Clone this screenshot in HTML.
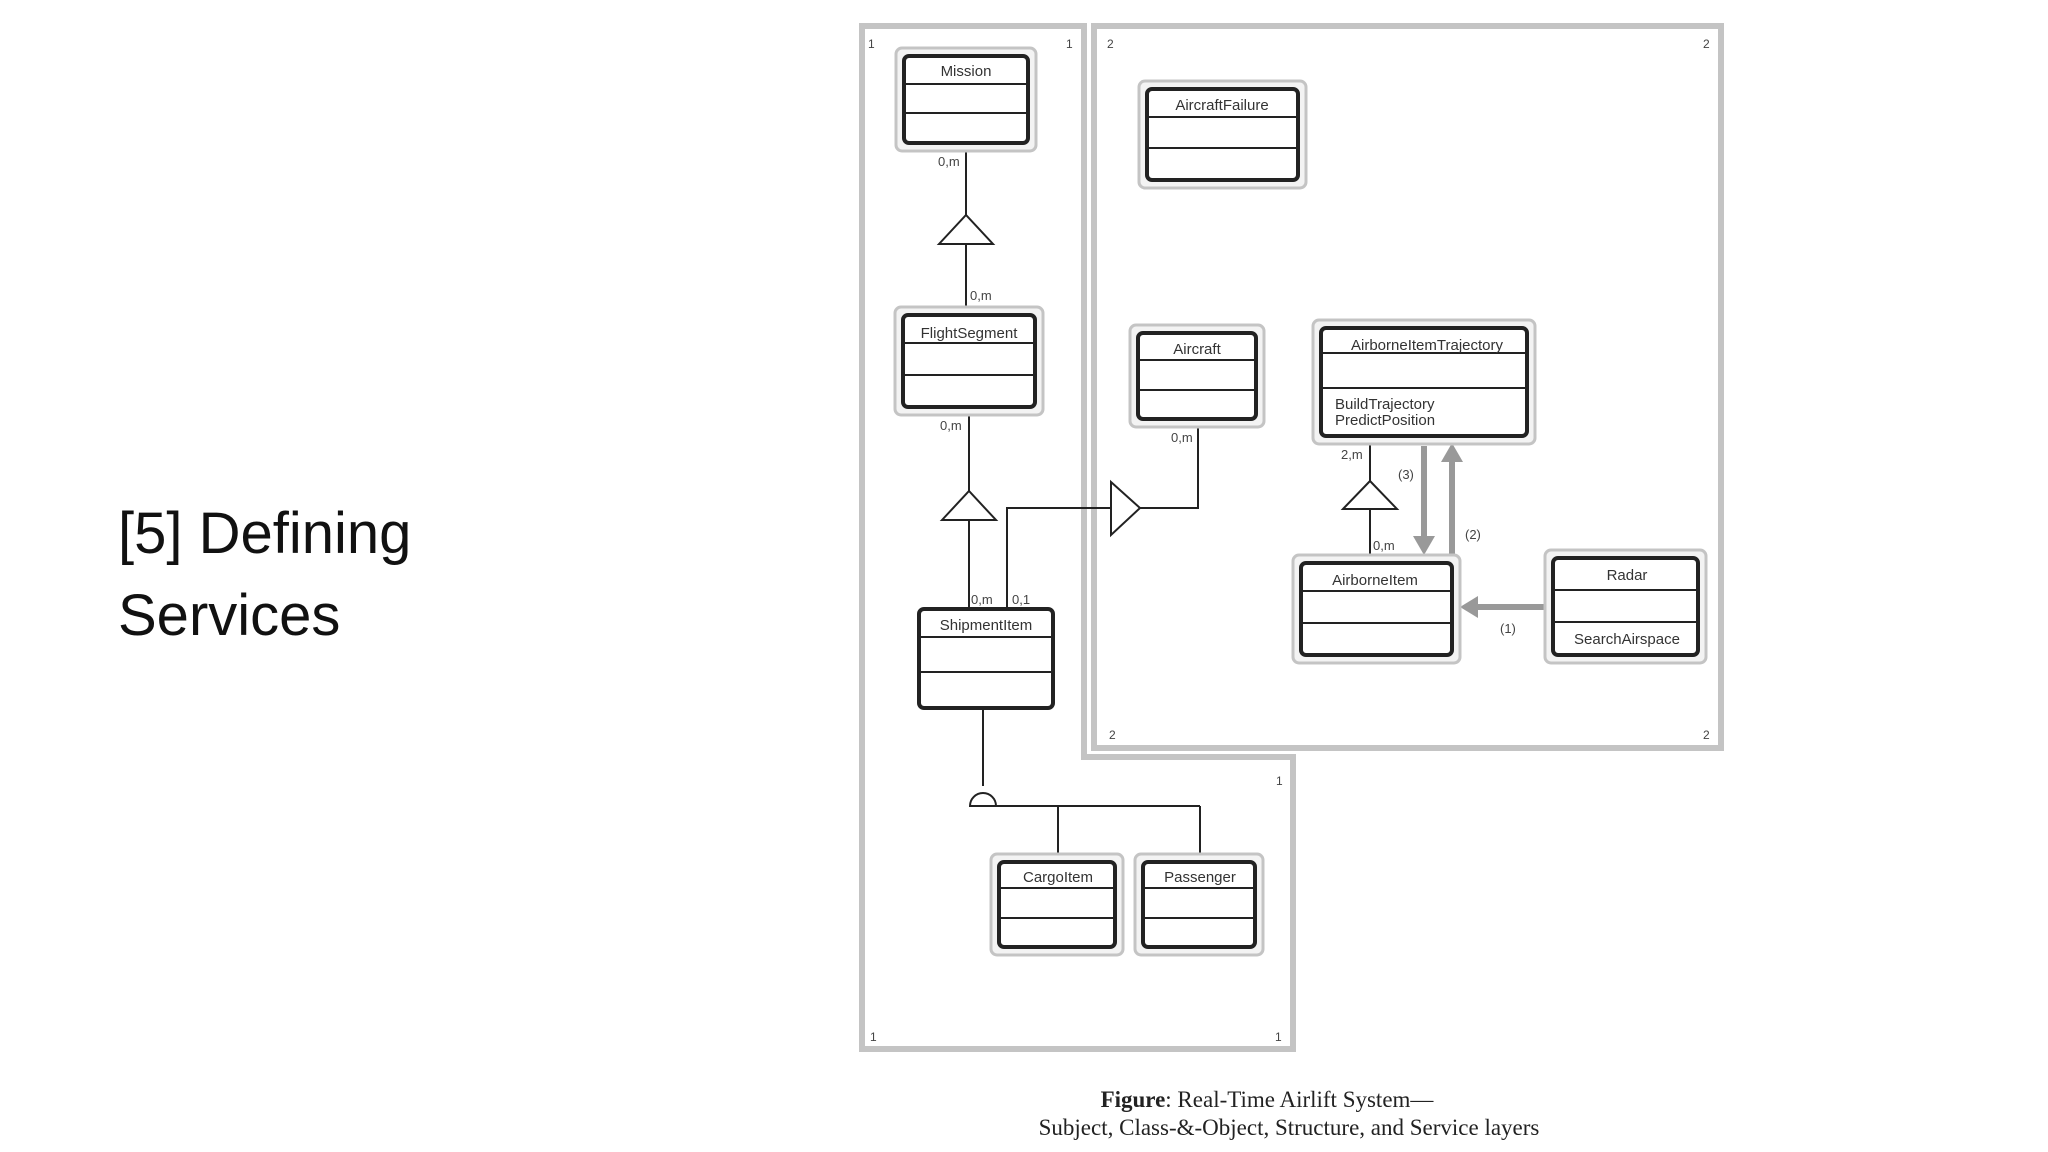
<!DOCTYPE html>
<html><head><meta charset="utf-8"><style>
html,body{margin:0;padding:0;background:#fff;}
body{width:2048px;height:1152px;overflow:hidden;position:relative;}
.t{position:absolute;left:118px;font-family:"Liberation Sans",sans-serif;font-size:58px;color:#111;line-height:1;}
</style></head><body>
<div class="t" style="top:505px">[5] Defining</div>
<div class="t" style="top:587px">Services</div>
<svg width="2048" height="1152" style="position:absolute;left:0;top:0" font-family="Liberation Sans, sans-serif">
<g fill="none" stroke="#c4c4c4" stroke-width="6">
<path d="M862,26 H1084 V757 H1293 V1049 H862 Z"/>
<rect x="1094" y="26" width="627" height="722"/>
</g>
<g font-size="12" fill="#444">
<text x="868" y="48">1</text><text x="1066" y="48">1</text>
<text x="1107" y="48">2</text><text x="1703" y="48">2</text>
<text x="1109" y="739">2</text><text x="1703" y="739">2</text>
<text x="1276" y="785">1</text><text x="870" y="1041">1</text><text x="1275" y="1041">1</text>
</g>
<!-- connectors -->
<g stroke="#222" stroke-width="2" fill="none">
<path d="M966,151 V215 M966,244 V307"/>
<path d="M939,244 L966,215 L993,244 Z" fill="#fff"/>
<path d="M969,415 V491 M969,520 V609"/>
<path d="M942,520 L969,491 L996,520 Z" fill="#fff"/>
<path d="M1007,609 V508 H1111 M1140,508 H1198 V427"/>
<path d="M1111,482 L1140,508 L1111,535 Z" fill="#fff"/>
<path d="M1370,444 V481 M1370,509 V555"/>
<path d="M1343,509 L1370,481 L1397,509 Z" fill="#fff"/>
<path d="M983,708 V786 M970,806 H1200 M1058,806 V854 M1200,806 V854"/>
<path d="M970,806 A13,13 0 0 1 996,806 Z" fill="#fff"/>
</g>
<g stroke="#999" stroke-width="6" fill="#999">
<path d="M1424,446 V540" fill="none"/><path d="M1413,536 L1424,555 L1435,536 Z" stroke="none"/>
<path d="M1452,555 V460" fill="none"/><path d="M1441,462 L1452,443 L1463,462 Z" stroke="none"/>
<path d="M1545,607 H1476" fill="none"/><path d="M1478,596 L1460,607 L1478,618 Z" stroke="none"/>
</g>
<g font-size="13" fill="#444">
<text x="938" y="166">0,m</text><text x="970" y="300">0,m</text><text x="940" y="430">0,m</text>
<text x="1171" y="442">0,m</text><text x="971" y="604">0,m</text><text x="1012" y="604">0,1</text>
<text x="1341" y="459">2,m</text><text x="1373" y="550">0,m</text>
<text x="1398" y="479">(3)</text><text x="1465" y="539">(2)</text><text x="1500" y="633">(1)</text>
</g>
<!-- boxes -->
<g font-size="15" fill="#333" text-anchor="middle">
<g>
<rect x="896" y="48" width="140" height="103" rx="6" fill="#f3f3f3" stroke="#c4c4c4" stroke-width="3"/>
<rect x="904" y="56" width="124" height="87" rx="5" fill="#fff" stroke="#222" stroke-width="4"/>
<path d="M904,84 H1028 M904,113 H1028" stroke="#222" stroke-width="2"/>
<text x="966" y="76">Mission</text></g>
<g>
<rect x="1139" y="81" width="167" height="107" rx="6" fill="#f3f3f3" stroke="#c4c4c4" stroke-width="3"/>
<rect x="1147" y="89" width="151" height="91" rx="5" fill="#fff" stroke="#222" stroke-width="4"/>
<path d="M1147,117 H1298 M1147,148 H1298" stroke="#222" stroke-width="2"/>
<text x="1222" y="110">AircraftFailure</text></g>
<g>
<rect x="895" y="307" width="148" height="108" rx="6" fill="#f3f3f3" stroke="#c4c4c4" stroke-width="3"/>
<rect x="903" y="315" width="132" height="92" rx="5" fill="#fff" stroke="#222" stroke-width="4"/>
<path d="M903,343 H1035 M903,375 H1035" stroke="#222" stroke-width="2"/>
<text x="969" y="338">FlightSegment</text></g>
<g>
<rect x="1130" y="325" width="134" height="102" rx="6" fill="#f3f3f3" stroke="#c4c4c4" stroke-width="3"/>
<rect x="1138" y="333" width="118" height="86" rx="5" fill="#fff" stroke="#222" stroke-width="4"/>
<path d="M1138,360 H1256 M1138,390 H1256" stroke="#222" stroke-width="2"/>
<text x="1197" y="354">Aircraft</text></g>
<g>
<rect x="1313" y="320" width="222" height="124" rx="6" fill="#f3f3f3" stroke="#c4c4c4" stroke-width="3"/>
<rect x="1321" y="328" width="206" height="108" rx="5" fill="#fff" stroke="#222" stroke-width="4"/>
<path d="M1321,353 H1527 M1321,388 H1527" stroke="#222" stroke-width="2"/>
<text x="1427" y="350">AirborneItemTrajectory</text>
<text x="1335" y="409" text-anchor="start">BuildTrajectory</text>
<text x="1335" y="425" text-anchor="start">PredictPosition</text></g>
<g>
<rect x="1293" y="555" width="167" height="108" rx="6" fill="#f3f3f3" stroke="#c4c4c4" stroke-width="3"/>
<rect x="1301" y="563" width="151" height="92" rx="5" fill="#fff" stroke="#222" stroke-width="4"/>
<path d="M1301,591 H1452 M1301,623 H1452" stroke="#222" stroke-width="2"/>
<text x="1375" y="585">AirborneItem</text></g>
<g>
<rect x="1545" y="550" width="161" height="113" rx="6" fill="#f3f3f3" stroke="#c4c4c4" stroke-width="3"/>
<rect x="1553" y="558" width="145" height="97" rx="5" fill="#fff" stroke="#222" stroke-width="4"/>
<path d="M1553,590 H1698 M1553,622 H1698" stroke="#222" stroke-width="2"/>
<text x="1627" y="580">Radar</text>
<text x="1627" y="644">SearchAirspace</text></g>
<g>
<rect x="919" y="609" width="134" height="99" rx="5" fill="#fff" stroke="#222" stroke-width="4"/>
<path d="M919,637 H1053 M919,672 H1053" stroke="#222" stroke-width="2"/>
<text x="986" y="630">ShipmentItem</text></g>
<g>
<rect x="991" y="854" width="132" height="101" rx="6" fill="#f3f3f3" stroke="#c4c4c4" stroke-width="3"/>
<rect x="999" y="862" width="116" height="85" rx="5" fill="#fff" stroke="#222" stroke-width="4"/>
<path d="M999,888 H1115 M999,918 H1115" stroke="#222" stroke-width="2"/>
<text x="1058" y="882">CargoItem</text></g>
<g>
<rect x="1135" y="854" width="128" height="101" rx="6" fill="#f3f3f3" stroke="#c4c4c4" stroke-width="3"/>
<rect x="1143" y="862" width="112" height="85" rx="5" fill="#fff" stroke="#222" stroke-width="4"/>
<path d="M1143,888 H1255 M1143,918 H1255" stroke="#222" stroke-width="2"/>
<text x="1200" y="882">Passenger</text></g>
</g>
<g font-family="Liberation Serif, serif" font-size="23" fill="#222" text-anchor="middle">
<text x="1267" y="1107"><tspan font-weight="bold">Figure</tspan>:  Real-Time Airlift System—</text>
<text x="1289" y="1135">Subject, Class-&amp;-Object, Structure, and Service layers</text>
</g>
</svg>
</body></html>
